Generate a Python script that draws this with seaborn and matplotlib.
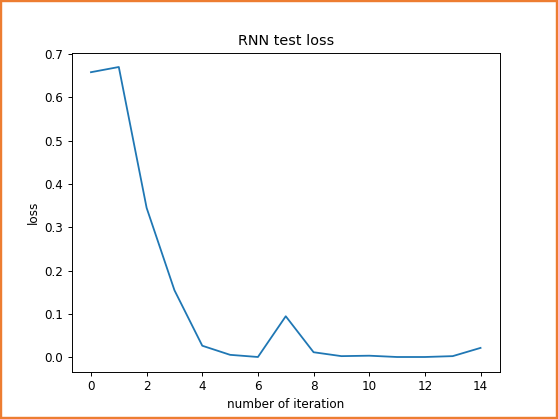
import matplotlib
matplotlib.use('Agg')
import matplotlib.pyplot as plt
import seaborn as sns
import pandas as pd
from matplotlib.patches import Rectangle

# RNN test loss per iteration
iterations = list(range(15))
loss = [0.658, 0.670, 0.345, 0.155, 0.027, 0.006, 0.001, 0.095,
        0.012, 0.003, 0.004, 0.001, 0.001, 0.003, 0.022]

df = pd.DataFrame({'iteration': iterations, 'loss': loss})

dpi = 86.5
fig, ax = plt.subplots(figsize=(558 / dpi, 419 / dpi), dpi=dpi)
fig.subplots_adjust(left=71.5 / 558, right=500 / 558, top=1 - 52.5 / 419, bottom=1 - 371.5 / 419)
sns.lineplot(data=df, x='iteration', y='loss', ax=ax, color='#1f77b4')
ax.set_title('RNN test loss')
ax.set_xlabel('number of iteration')
ax.set_ylabel('loss')
ax.set_xticks(range(0, 15, 2))

# orange frame around the whole picture
fig.patches.append(Rectangle((0.002, 0.003), 0.996, 0.994, transform=fig.transFigure,
                             fill=False, edgecolor='#ed7d31', linewidth=2))

fig.savefig('out.png', dpi=dpi)
